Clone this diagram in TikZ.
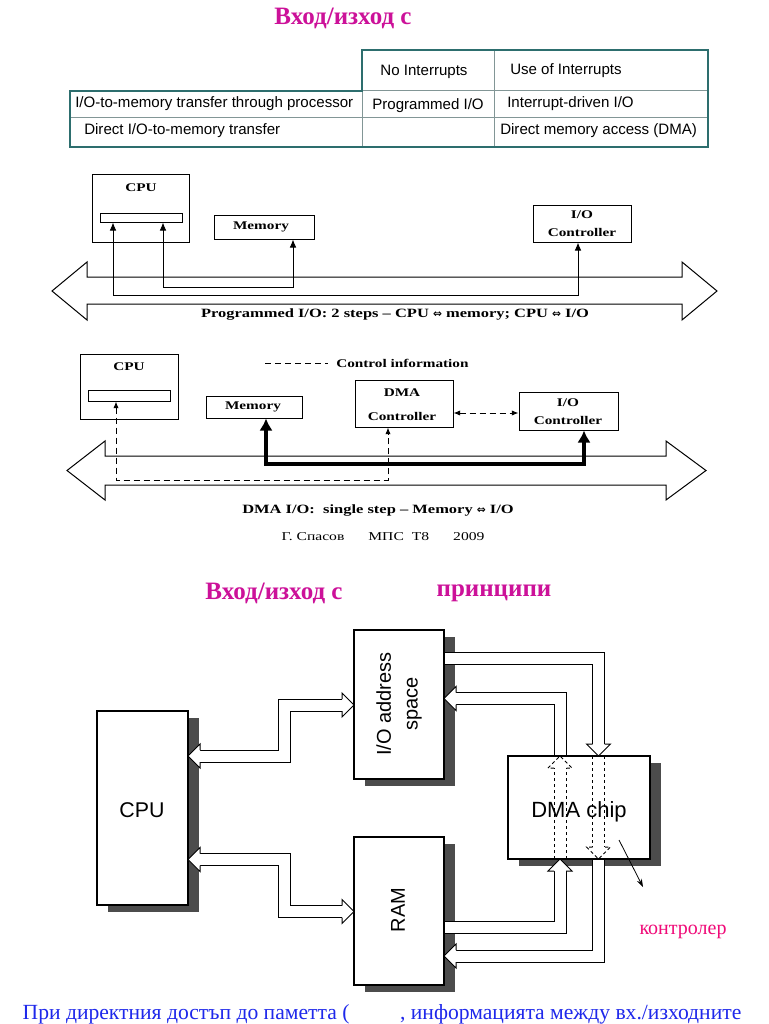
\documentclass[tikz,border=0pt]{standalone}
\usepackage{fontspec}
\setmainfont{Liberation Serif}
\newfontfamily\sansf{Liberation Sans}
\newfontfamily\widef[FakeStretch=1.3]{Liberation Serif}
\newfontfamily\symf{DejaVu Sans}
\usetikzlibrary{arrows.meta,fit,calc}
\definecolor{ttlc}{RGB}{204,17,153}
\definecolor{pinkc}{RGB}{240,10,120}
\definecolor{bluec}{RGB}{30,40,235}
\definecolor{tealc}{RGB}{45,110,110}
\definecolor{tgray}{RGB}{130,150,150}
\newcommand\lr{{\symf\fontsize{8}{9}\selectfont ⇔}}
\newcommand\headR[3][hhead]{\path[#1] ($(#2,#3)+(-12,-6)$) -- ++(0,-6) -- ++(12,12) -- ++(-12,12) -- ++(0,-6);}
\newcommand\headL[3][hhead]{\path[#1] ($(#2,#3)+(12,-6)$) -- ++(0,-6) -- ++(-12,12) -- ++(12,12) -- ++(0,-6);}
\newcommand\headD[3][hhead]{\path[#1] ($(#2,#3)+(-6,-12)$) -- ++(-6,0) -- ++(12,12) -- ++(12,-12) -- ++(-6,0);}
\newcommand\headU[3][hhead]{\path[#1] ($(#2,#3)+(-6,12)$) -- ++(-6,0) -- ++(12,-12) -- ++(12,12) -- ++(-6,0);}
\tikzset{
 tbl/.style={font=\sansf\fontsize{11.3}{13}\selectfont, inner sep=0pt},
 ttl/.style={font=\bfseries\fontsize{18.75}{22}\selectfont, text=ttlc, inner sep=0pt},
 box/.style={draw, line width=0.75pt, inner sep=0pt, fill=white},
 lbl/.style={font=\widef\bfseries\fontsize{8.8}{10}\selectfont, inner sep=0pt},
 captxt/.style={font=\widef\bfseries\fontsize{9.5}{11}\selectfont, inner sep=0pt},
 conn/.style={line width=0.75pt, {Latex[length=6pt,width=5pt]}-{Latex[length=6pt,width=5pt]}},
 heavy/.style={line width=3pt, {Latex[length=9pt,width=10pt]}-{Latex[length=9pt,width=10pt]}},
 dconn/.style={line width=0.75pt, dash pattern=on 4.5pt off 3pt, {Latex[length=5pt,width=4pt]}-{Latex[length=5pt,width=4pt]}},
 bus/.style={draw, line width=0.75pt, fill=white},
 bigbox/.style={draw, line width=0.9pt, inner sep=0pt, fill=white},
 shadowc/.style={fill=black!70},
 pipe/.style={line width=9.75pt, draw=black, postaction={draw=white, line width=8.25pt}},
 hhead/.style={fill=white, draw=black, line width=0.75pt},
 dhead/.style={draw=black, line width=0.75pt, dash pattern=on 2.5pt off 2pt},
 dl/.style={draw=black, line width=0.75pt, dash pattern=on 2.5pt off 2pt},
 sanslbl/.style={font=\sansf\fontsize{16}{20}\selectfont, inner sep=0pt},
}
\begin{document}
\begin{tikzpicture}[x=0.75pt,y=-0.75pt]
\fill[white] (0,0) rectangle (768,1024);
\useasboundingbox (0,0) rectangle (768,1024);

% ---------- title 1
\node[ttl] (t1) at (343,18) {Вход/изход с};

% ---------- table
\draw[tgray, line width=0.75pt] (362,91) -- (708,91) (70,117) -- (708,117) (494,50) -- (494,147) (362,91) -- (362,147);
\draw[tealc, line width=1.8pt] (362,50) -- (708,50) -- (708,147) -- (70,147) -- (70,91) -- (362,91) -- cycle;
\node[tbl] (h1) at (424,72) {No Interrupts};
\node[tbl, anchor=west] (h2) at (510,71) {Use of Interrupts};
\node[tbl, anchor=west] (r1) at (75,104) {I/O-to-memory transfer through processor};
\node[tbl] (r1a) at (428,106) {Programmed I/O};
\node[tbl, anchor=west] (r1b) at (507,104) {Interrupt-driven I/O};
\node[tbl, anchor=west] (r2) at (84,131) {Direct I/O-to-memory transfer};
\node[tbl, anchor=west] (r2b) at (500,131) {Direct memory access (DMA)};

% ---------- diagram 1
\draw[bus] (52,291) -- (87,262) -- (87,277) -- (682,277) -- (682,262) -- (717,291) -- (682,320) -- (682,304) -- (87,304) -- (87,320) -- cycle;
\node[box, fit={(92,174) (189,242)}] (cpu1) {};
\node[box, fit={(100,213) (182,222)}] (reg1) {};
\node[box, fit={(214,215) (314,239)}] (mem1) {};
\node[box, fit={(533,205) (631,242)}] (io1) {};
\node[lbl] (cpu1t) at (141,188) {CPU};
\node[lbl] (mem1t) at (261,227) {Memory};
\node[lbl] (io1t) at (582,215) {I/O};
\node[lbl] (io1u) at (582,232) {Controller};
\coordinate (c1) at (113,295);
\coordinate (c2) at (578,295);
\coordinate (c3) at (163,287);
\coordinate (c4) at (293,287);
\draw[conn] (reg1.south -| c1) -- (c1) -- (c2) -- (io1.south -| c2);
\draw[conn] (reg1.south -| c3) -- (c3) -- (c4) -- (mem1.south -| c4);
\node[captxt] (cap1) at (395,315) {Programmed I/O: 2 steps – CPU \lr{} memory; CPU \lr{} I/O};

% ---------- diagram 2
\draw[bus] (67,470.5) -- (105,441) -- (105,456) -- (666,456) -- (666,441) -- (706,470.5) -- (666,500) -- (666,485) -- (105,485) -- (105,500) -- cycle;
\node[box, fit={(80,354) (178,419)}] (cpu2) {};
\node[box, fit={(88,390) (170,401)}] (reg2) {};
\node[box, fit={(206,396) (302,418)}] (mem2) {};
\node[box, fit={(355,380) (453,427)}] (dma) {};
\node[box, fit={(519,392) (618,430)}] (io2) {};
\node[lbl] (cpu2t) at (129,367) {CPU};
\node[lbl] (mem2t) at (253,407) {Memory};
\node[lbl] (dmat) at (402,393) {DMA};
\node[lbl] (dmau) at (402,416) {Controller};
\node[lbl] (io2t) at (568,403) {I/O};
\node[lbl] (io2u) at (568,420) {Controller};
\coordinate (lg1) at (265,363);
\coordinate (lg2) at (328,363);
\draw[line width=0.75pt, dash pattern=on 4.5pt off 3pt] (lg1) -- (lg2);
\node[lbl, anchor=west] (lgt) at (336,363) {Control information};
\coordinate (e1) at (0,413);
\draw[dconn] (dma.east |- e1) -- (io2.west |- e1);
\coordinate (k1) at (266,464);
\coordinate (k2) at (584,464);
\draw[heavy] (mem2.south -| k1) -- (k1) -- (k2) -- (io2.south -| k2);
\coordinate (d1) at (116,480);
\coordinate (d2) at (388,480);
\draw[dconn] (reg2.south -| d1) -- (d1) -- (d2) -- (dma.south -| d2);
\node[captxt] (cap2) at (378,510) {DMA I/O:\ \ single step – Memory \lr{} I/O};
\node[font=\widef\fontsize{9}{11}\selectfont, inner sep=0pt] (foot) at (383,537) {Г. Спасов\hspace{18pt}МПС\hspace{6pt}Т8\hspace{18pt}2009};

% ---------- title 2
\node[ttl] (t2a) at (274,593) {Вход/изход с};
\node[ttl] (t2b) at (494,593) {принципи};

% ---------- lower diagram : shadows
\fill[shadowc] (108,718) rectangle (199,912);
\fill[shadowc] (365,637) rectangle (455,786);
\fill[shadowc] (365,844) rectangle (455,992);
\fill[shadowc] (519,763) rectangle (661,866);
% pipes
\draw[pipe] (200,756) -- (284.5,756) -- (284.5,705) -- (342,705);
\draw[pipe] (200,859.5) -- (284.5,859.5) -- (284.5,911.5) -- (342,911.5);
\draw[pipe] (444,658.5) -- (598.5,658.5) -- (598.5,744);
\draw[pipe] (598.5,859) -- (598.5,956) -- (456,956);
\draw[pipe] (444,927.5) -- (560,927.5) -- (560,871);
\draw[pipe] (560,756) -- (560,698.5) -- (456,698.5);
% boxes
\node[bigbox, fit={(97,711) (188,905)}] (cpu3) {};
\node[bigbox, fit={(354,630) (444,779)}] (ios) {};
\node[bigbox, fit={(354,837) (444,985)}] (ram) {};
\node[bigbox, fit={(508,756) (650,859)}] (chip) {};
% heads
\headL{188}{756}
\headR{354}{705}
\headL{188}{859.5}
\headR{354}{911.5}
\headD{598.5}{756}
\headL{444}{956}
\headU{560}{859}
\headL{444}{698.5}
% dashed paths inside chip
\draw[dl] (592.5,756) -- (592.5,847) (604.5,756) -- (604.5,847);
\headD[dhead]{598.5}{859}
\draw[dl] (554,859) -- (554,768) (566,859) -- (566,768);
\headU[dhead]{560}{756}
% labels
\node[sanslbl] (cpu3t) at (142,810) {CPU};
\node[sanslbl, font=\sansf\fontsize{15}{20}\selectfont, rotate=90, align=center] (iost) at (399,704) {I/O address\\space};
\node[sanslbl, font=\sansf\fontsize{15}{20}\selectfont, rotate=90] (ramt) at (398,910) {RAM};
\node[sanslbl, font=\sansf\fontsize{16.5}{20}\selectfont] (chipt) at (579,812) {DMA chip};
\coordinate (ar1) at (619,840);
\coordinate (ar2) at (643,887);
\draw[line width=0.6pt, -{Stealth[length=6pt,width=4pt]}] (ar1) -- (ar2);
\node[font=\fontsize{15}{18}\selectfont, text=pinkc, inner sep=0pt] (ctrl) at (683,932) {контролер};
\node[font=\fontsize{16.2}{19}\selectfont, text=bluec, inner sep=0pt] (bottom) at (382,1014) {При директния достъп до паметта (\hspace{38pt}, информацията между вх./изходните};
\end{tikzpicture}
\end{document}
